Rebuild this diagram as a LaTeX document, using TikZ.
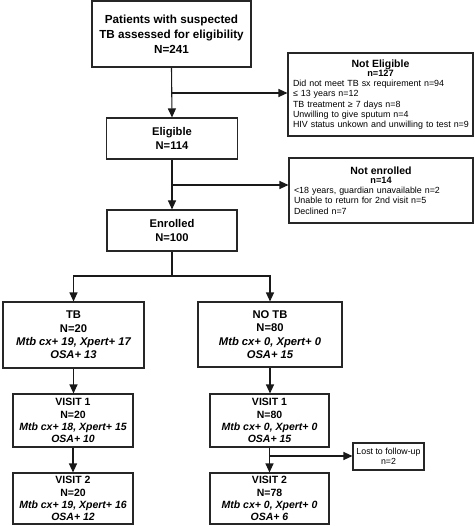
\documentclass[tikz,border=0pt]{standalone}
\usepackage{fontspec}
\setmainfont{Liberation Sans}
\usetikzlibrary{arrows.meta}
\tikzset{
  box/.style={draw=black!85, line width=1.1pt, fill=white, inner sep=0pt, align=center,
    font=\fontsize{11.2}{13.3}\selectfont\bfseries},
  visitbox/.style={box, font=\fontsize{10.5}{12.2}\selectfont\bfseries},
  sidebox/.style={draw=black!85, line width=1.1pt, fill=white, inner xsep=3pt, inner ysep=0pt,
    font=\fontsize{8.9}{10.3}\selectfont},
  conn/.style={draw=black!90, line width=1.1pt},
  arr/.style={conn, -{Triangle[length=9pt,width=8pt]}},
}
\begin{document}
\begin{tikzpicture}[x=1pt,y=-1pt]
\useasboundingbox (0,0) rectangle (474,526);
% main column
\node[box, minimum width=159pt, minimum height=66pt, font=\fontsize{11.7}{15}\selectfont\bfseries] (top) at (171.5,34)
  {Patients with suspected\\TB assessed for eligibility\\N=241};
\node[box, minimum width=131pt, minimum height=41pt] (elig) at (172,138.5) {Eligible\\N=114};
\node[box, minimum width=130pt, minimum height=41pt] (enr) at (172,230.5) {Enrolled\\N=100};
% side boxes
\node[sidebox, text width=179pt, minimum width=185pt, minimum height=83pt] (notelig) at (380.5,94.5)
  {{\centering\fontsize{10.5}{11.5}\selectfont\bfseries Not Eligible\\[-1pt]
    \fontsize{9.2}{10}\selectfont n=127\par}
   \hspace*{2pt}Did not meet TB sx requirement n=94\\
   \hspace*{2pt}≤ 13 years n=12\\
   \hspace*{2pt}TB treatment ≥ 7 days n=8\\
   \hspace*{2pt}Unwilling to give sputum n=4\\
   \hspace*{2pt}HIV status unkown and unwilling to test n=9};
\node[sidebox, text width=178pt, minimum width=184pt, minimum height=65pt] (notenr) at (381,190.5)
  {{\centering\fontsize{10.5}{11.5}\selectfont\bfseries Not enrolled\\[-1pt]
    \fontsize{9.2}{10}\selectfont n=14\par}
   \hspace*{2pt}<18 years, guardian unavailable n=2\\
   \hspace*{2pt}Unable to return for 2nd visit n=5\\
   \hspace*{2pt}Declined n=7};
% groups
\node[box, minimum width=141pt, minimum height=66pt] (tb) at (73.5,335)
  {TB\\N=20\\\itshape Mtb cx+ 19, Xpert+ 17\\\itshape OSA+ 13};
\node[box, minimum width=144pt, minimum height=65pt] (notb) at (270,334.5)
  {NO TB\\N=80\\\itshape Mtb cx+ 0, Xpert+ 0\\\itshape OSA+ 15};
\node[visitbox, minimum width=120pt, minimum height=53pt] (v1l) at (73,420.5)
  {VISIT 1\\N=20\\\itshape Mtb cx+ 18, Xpert+ 15\\\itshape OSA+ 10};
\node[visitbox, minimum width=119pt, minimum height=53pt] (v1r) at (269.5,420.5)
  {VISIT 1\\N=80\\\itshape Mtb cx+ 0, Xpert+ 0\\\itshape OSA+ 15};
\node[visitbox, minimum width=120pt, minimum height=51pt] (v2l) at (73,498.5)
  {VISIT 2\\N=20\\\itshape Mtb cx+ 19, Xpert+ 16\\\itshape OSA+ 12};
\node[visitbox, minimum width=119pt, minimum height=51pt] (v2r) at (269.5,498.5)
  {VISIT 2\\N=78\\\itshape Mtb cx+ 0, Xpert+ 0\\\itshape OSA+ 6};
\node[sidebox, inner xsep=0pt, align=center, minimum width=71pt, minimum height=27pt, font=\fontsize{8.8}{10}\selectfont] (lost) at (388.5,456.5)
  {Lost to follow-up\\n=2};
% connectors
\coordinate (b1) at (172,93);
\coordinate (b2) at (172,185);
\coordinate (b3) at (172,276);
\coordinate (b4) at (270,456);
\draw[arr] (top.south) -- (elig.north);
\draw[arr] (b1) -- (b1 -| notelig.west);
\draw[arr] (elig.south) -- (enr.north);
\draw[arr] (b2) -- (b2 -| notenr.west);
\draw[conn] (enr.south) -- (b3);
\draw[arr] (b3) -| (tb.north);
\draw[arr] (b3) -| (notb.north);
\draw[arr] (tb.south) -- (tb.south |- v1l.north);
\draw[arr] (v1l.south) -- (v2l.north);
\draw[arr] (notb.south) -- (notb.south |- v1r.north);
\draw[arr] (v1r.south) -- (v2r.north);
\draw[arr] (b4) -- (b4 -| lost.west);
\end{tikzpicture}
\end{document}
